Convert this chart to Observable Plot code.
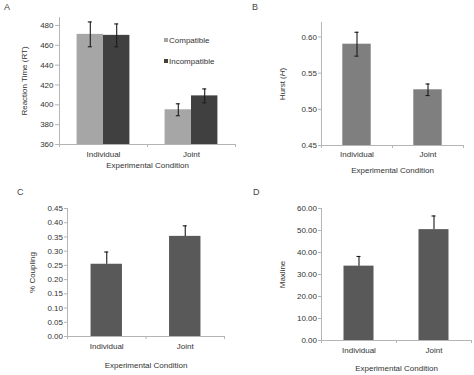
<!DOCTYPE html>
<html><head><meta charset="utf-8">
<script src="https://cdn.jsdelivr.net/npm/d3@7"></script>
<script src="https://cdn.jsdelivr.net/npm/@observablehq/plot@0.6"></script>
<style>
body{margin:0;background:#fff;}
#chart{position:relative;width:474px;height:375px;overflow:hidden;font-family:"Liberation Sans",Arial,sans-serif;background:#fff;}
.panel{position:absolute;}
.letter{position:absolute;font-size:9px;color:#444;line-height:1;}
.legend{position:absolute;font-size:8px;color:#333;line-height:8px;white-space:nowrap;}
.legend span.sw{display:inline-block;width:4px;height:4px;margin-right:1px;vertical-align:1px;}
</style></head><body><div id="chart"></div>
<script>
// ---- data ----
const conditions = ["Individual", "Joint"];
const series = ["Compatible", "Incompatible"];
const rtCompatible = [471, 395];
const rtCompatibleErr = [12.5, 6];
const rtIncompatible = [470, 409];
const rtIncompatibleErr = [11.5, 7];
const hurst = [0.590, 0.527];
const hurstErr = [0.0165, 0.008];
const coupling = [0.254, 0.352];
const couplingErr = [0.043, 0.037];
const maxline = [33.8, 50.4];
const maxlineErr = [4.4, 6.2];
const ticksA = [360, 380, 400, 420, 440, 460, 480];
const ticksB = [0.45, 0.50, 0.55, 0.60];
const ticksC = [0, 0.05, 0.10, 0.15, 0.20, 0.25, 0.30, 0.35, 0.40, 0.45];
const ticksD = [0, 10, 20, 30, 40, 50, 60];
const xTitle = "Experimental Condition";
const yTitles = ["Reaction Time (RT)", "Hurst (H)", "% Coupling", "Maxline"];
const seriesColors = ["#a6a6a6", "#404040"];

// ---- styles ----
const axisColor = "#b5b5b5";
const textColor = "#333";
const errColor = "#1a1a1a";
const font = "Liberation Sans, Arial, sans-serif";

const chart = document.getElementById("chart");

function makePanel(o) {
  const yMin = o.yDomain[0];
  const marks = [
    Plot.rectY(o.rows, {x1: "x1", x2: "x2", y1: () => yMin, y2: "value", fill: o.fill}),
    Plot.ruleY([yMin], {stroke: axisColor}),
    Plot.ruleX([0], {stroke: axisColor}),
    Plot.axisY({ticks: o.yTicks, tickFormat: o.yFormat, tickSize: o.tickSize ?? 3, tickPadding: o.tickPad ?? 1.5, stroke: axisColor, fill: textColor, label: null}),
    Plot.axisX({ticks: d3.range(conditions.length + 1), tickFormat: () => "", tickSize: 3, stroke: axisColor, label: null}),
    Plot.axisX({ticks: conditions.map((c, i) => i + 0.5), tickFormat: v => conditions[Math.floor(v)], tickSize: 0, tickPadding: o.xPad, fill: textColor, label: null}),
    Plot.ruleX(o.rows, {x: d => (d.x1 + d.x2) / 2, y1: d => o.both ? d.value - d.err : d.value, y2: d => d.value + d.err, stroke: errColor, strokeWidth: 1.1}),
    Plot.ruleY(o.rows, {y: d => d.value + d.err, x1: d => (d.x1 + d.x2) / 2, x2: d => (d.x1 + d.x2) / 2, insetLeft: -2, insetRight: -2, stroke: errColor, strokeWidth: 1.1}),
    Plot.text([xTitle], {frameAnchor: "bottom", dy: o.titleDy, lineAnchor: "middle", textAnchor: "middle", fill: textColor}),
    Plot.text([o.yTitle], {frameAnchor: "left", rotate: -90, dx: -o.yTitleDx, lineAnchor: "middle", textAnchor: "middle", fill: textColor})
  ];
  if (o.both) marks.push(Plot.ruleY(o.rows, {y: d => d.value - d.err, x1: d => (d.x1 + d.x2) / 2, x2: d => (d.x1 + d.x2) / 2, insetLeft: -2, insetRight: -2, stroke: errColor, strokeWidth: 1.1}));
  const p = Plot.plot({
    width: o.width, height: o.height,
    marginLeft: o.m[0], marginTop: o.m[1], marginRight: o.m[2], marginBottom: o.m[3],
    style: {fontFamily: font, fontSize: "8px", color: textColor, background: "transparent", overflow: "visible"},
    x: {type: "linear", domain: [0, conditions.length]},
    y: {domain: o.yDomain},
    color: o.color,
    marks
  });
  const div = document.createElement("div");
  div.className = "panel";
  div.style.left = o.left + "px";
  div.style.top = o.top + "px";
  div.appendChild(p);
  chart.appendChild(div);
  return p;
}

function singleRows(values, errs, bw) {
  return conditions.map((c, i) => ({cond: c, value: values[i], err: errs[i], x1: i + 0.5 - bw / 2, x2: i + 0.5 + bw / 2}));
}

// Panel A (grouped)
const bwA = 0.3;
const rowsA = [];
conditions.forEach((c, i) => {
  [[rtCompatible, rtCompatibleErr], [rtIncompatible, rtIncompatibleErr]].forEach(([v, e], s) => {
    const x1 = i + 0.5 - bwA + s * bwA;
    rowsA.push({cond: c, series: series[s], value: v[i], err: e[i], x1, x2: x1 + bwA});
  });
});
const plotA = makePanel({
  left: 0, top: 0, width: 240, height: 185, m: [59, 17, 5, 41],
  rows: rowsA, fill: "series", color: {domain: series, range: seriesColors},
  yDomain: [360, 488], yTicks: ticksA, yFormat: d3.format("d"), tickSize: 4, tickPad: 2,
  yTitle: yTitles[0], yTitleDx: 35, xPad: 7, titleDy: 21, both: true
});

makePanel({
  left: 240, top: 0, width: 234, height: 185, m: [81, 22, 11, 40],
  rows: singleRows(hurst, hurstErr, 0.4), fill: "#7f7f7f",
  yDomain: [0.45, 0.62], yTicks: ticksB, yFormat: d3.format(".2f"),
  yTitle: yTitles[1], yTitleDx: 39, xPad: 5.5, titleDy: 25, both: true
});

makePanel({
  left: 0, top: 185, width: 240, height: 190, m: [67, 23, 16, 39],
  rows: singleRows(coupling, couplingErr, 0.4), fill: "#595959",
  yDomain: [0, 0.45], yTicks: ticksC, yFormat: d3.format(".2f"),
  yTitle: yTitles[2], yTitleDx: 35.5, xPad: 7, titleDy: 29, both: false
});

makePanel({
  left: 240, top: 185, width: 234, height: 190, m: [81, 23, 3, 35],
  rows: singleRows(maxline, maxlineErr, 0.4), fill: "#595959",
  yDomain: [0, 60], yTicks: ticksD, yFormat: d3.format(".2f"),
  yTitle: yTitles[3], yTitleDx: 39, xPad: 7, titleDy: 28, both: false
});

// italic H in Hurst label
chart.querySelectorAll("svg text").forEach(t => {
  if (t.textContent === "Hurst (H)") t.innerHTML = 'Hurst (<tspan font-style="italic">H</tspan>)';
});

// Panel letters
[["A", 4, 3], ["B", 252, 3], ["C", 17, 188], ["D", 253, 188]].forEach(([l, x, y]) => {
  const d = document.createElement("div");
  d.className = "letter"; d.textContent = l;
  d.style.left = x + "px"; d.style.top = y + "px";
  chart.appendChild(d);
});

// Legend for panel A
const colorA = plotA.scale("color");
series.forEach((s, i) => {
  const d = document.createElement("div");
  d.className = "legend";
  d.style.left = "164px";
  d.style.top = (37 + i * 21) + "px";
  const sw = document.createElement("span");
  sw.className = "sw";
  sw.style.background = colorA.apply(s);
  d.appendChild(sw);
  d.appendChild(document.createTextNode(s));
  chart.appendChild(d);
});
</script></body></html>
